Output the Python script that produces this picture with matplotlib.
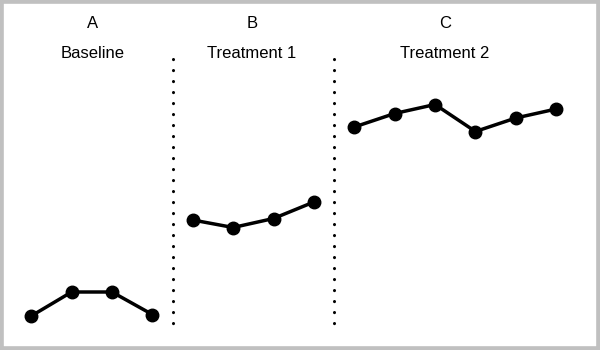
"""Single-case design chart: baseline and two treatment phases."""
import matplotlib
matplotlib.use("Agg")
import matplotlib.pyplot as plt
from matplotlib.patches import Rectangle

plt.rcParams.update({
    "font.family": ["Liberation Sans", "DejaVu Sans"],
})

# data: session number and response level per phase
baseline_x = [1, 2, 3, 4]
baseline_y = [8, 16, 16, 8.5]
treat1_x = [5, 6, 7, 8]
treat1_y = [40, 37.5, 40.5, 46]
treat2_x = [9, 10, 11, 12, 13, 14]
treat2_y = [71, 75.5, 78.5, 69.5, 74, 77]

phase_letters = ["A", "B", "C"]
phase_names = ["Baseline", "Treatment 1", "Treatment 2"]
phase_breaks = [4.5, 8.5]

fig = plt.figure(figsize=(6, 3.5), dpi=100)
ax = fig.add_axes([0, 0, 1, 1])
ax.set_xlim(0.227, 15.085)
ax.set_ylim(-10 / 3, 340 / 3)
ax.axis("off")

for xs, ys in [(baseline_x, baseline_y), (treat1_x, treat1_y),
               (treat2_x, treat2_y)]:
    ax.plot(xs, ys, color="black", lw=2.5, marker="o", ms=9,
            solid_capstyle="butt")

for xb in phase_breaks:
    ax.plot([xb, xb], [93.7, 3.3], color="black", lw=2.2,
            linestyle=(0, (0.05, 3.55)), dash_capstyle="round")

# phase labels (figure-fraction positions)
label_x = [93 / 600, 252 / 600, 445 / 600]
for lx, letter, name in zip(label_x, phase_letters, phase_names):
    fig.text(lx, 1 - 23 / 350, letter, ha="center", va="center",
             fontsize=12)
    fig.text(lx, 1 - 53 / 350, name, ha="center", va="center",
             fontsize=12)

fig.patches.append(Rectangle((0, 0), 1, 1, transform=fig.transFigure,
                             fill=False, lw=5.5, ec="#c0c0c0"))

fig.savefig("out.png", dpi=100, facecolor="white")
